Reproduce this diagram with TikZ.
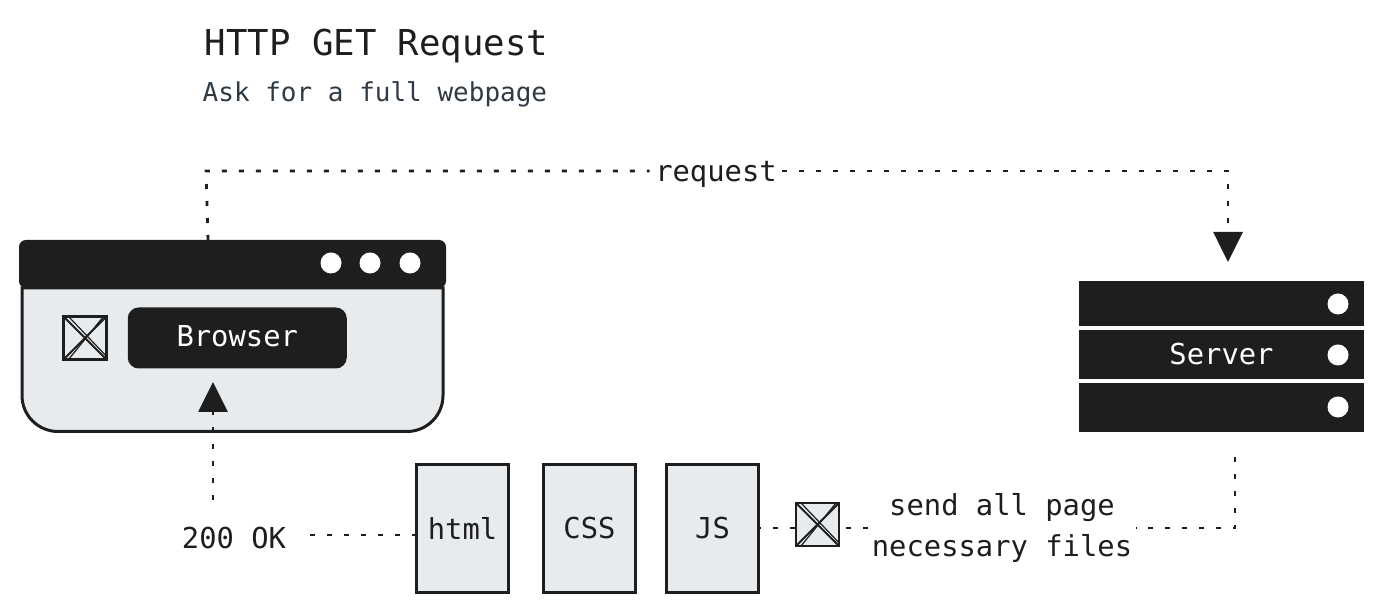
\documentclass[tikz,border=0pt]{standalone}
\usepackage{fontspec}
\setmainfont{DejaVu Sans Mono}
\usepackage{xcolor}
\definecolor{cInk}{HTML}{1E1E1E}
\definecolor{cNote}{HTML}{2F3A45}
\definecolor{cPaper}{HTML}{E8EBEE}
\usetikzlibrary{positioning,arrows.meta}
\tikzset{
  node-bar/.style={fill=cInk,draw=cInk,line width=0.2mm,inner sep=0pt,align=center,text=white},
  node-file/.style={draw=cInk,line width=0.3mm,fill=cPaper,inner sep=0pt,
    minimum width=9.2mm,minimum height=12.8mm,align=center},
  node-led/.style={circle,fill=white,inner sep=0pt,minimum size=2.1mm},
  node-check/.style={draw=cInk,line width=0.25mm,fill=cPaper,inner sep=0pt,minimum size=4.3mm,
    path picture={
      \draw[cInk,line width=0.18mm] (path picture bounding box.north west) -- (path picture bounding box.south east);
      \draw[cInk,line width=0.18mm] (path picture bounding box.south west) -- (path picture bounding box.north east);
      \draw[cInk,line width=0.12mm] ([xshift=0.5mm]path picture bounding box.north west) -- ([xshift=0.3mm]path picture bounding box.south east);
      \draw[cInk,line width=0.12mm] ([xshift=0.5mm]path picture bounding box.south west) -- ([xshift=-0.3mm]path picture bounding box.north east);
    }},
  line-dots/.style={line width=0.28mm,draw=cInk,dash pattern=on 0.5mm off 1.2mm},
  arrow-dots/.style={line-dots,-{Triangle[length=3mm,width=2.9mm]}},
}

\begin{document}
\begin{tikzpicture}[every node/.style={font=\fontsize{8.2}{11.4}\selectfont,text=cInk}]
  \useasboundingbox (0,0) rectangle (14,-6.13);
  % heading
  \node[anchor=west,inner sep=0pt,font=\fontsize{10.15}{12}\selectfont] (title) at (2.04,-0.46) {HTTP GET Request};
  \node[anchor=west,inner sep=0pt,text=cNote,font=\fontsize{7.4}{9}\selectfont] (subtitle) at (2.02,-0.94) {Ask for a full webpage};
  % browser window
  \node[node-bar,rounded corners=0.6mm,minimum width=42.5mm,minimum height=4.6mm,anchor=north west] (bar-window) at (0.19,-2.40) {};
  \draw[draw=cInk,line width=0.3mm,fill=cPaper] ([xshift=0.3mm]bar-window.south west) [rounded corners=3.6mm] -- (0.22,-4.315) -- (4.43,-4.315) [sharp corners] -- ([xshift=-0.3mm]bar-window.south east) -- cycle;
  \node[node-led] (led-a) at (3.31,-2.63) {};
  \node[node-led] (led-b) at (3.70,-2.63) {};
  \node[node-led] (led-c) at (4.10,-2.63) {};
  \node[node-check] (check-browser) at (0.85,-3.38) {};
  \node[node-bar,rounded corners=1mm,minimum width=21.7mm,minimum height=5.9mm,right=2mm of check-browser,text=white,text depth=0.4mm] (btn-browser) {Browser};
  % server rack
  \node[node-bar,minimum width=28.3mm,minimum height=4.3mm,anchor=north west] (bar-top) at (10.79,-2.81) {};
  \node[node-bar,minimum width=28.3mm,minimum height=4.7mm,below=0.4mm of bar-top,text=white] (bar-mid) {Server};
  \node[node-bar,minimum width=28.3mm,minimum height=4.7mm,below=0.4mm of bar-mid] (bar-low) {};
  \node[node-led] (led-top) at (13.38,-3.04) {};
  \node[node-led] (led-mid) at (13.38,-3.55) {};
  \node[node-led] (led-low) at (13.38,-4.07) {};
  % files on the way back
  \node[node-file,anchor=north west] (file-html) at (4.15,-4.63) {html};
  \node[node-file,right=3.2mm of file-html] (file-css) {CSS};
  \node[node-file,right=2.8mm of file-css] (file-js) {JS};
  \node[node-check] (check-files) at (8.175,-5.245) {};
  \node[align=center,inner sep=0.3mm] (lbl-send) at (10.02,-5.28) {send all page\\necessary files};
  \node[inner sep=0.3mm] (lbl-ok) at (2.34,-5.38) {200 OK};
  \node[fill=white,inner sep=0.5mm,text depth=0pt] (lbl-request) at (7.16,-1.71) {request};
  % free ends of the connectors
  \coordinate (req-start) at (2.08,-2.40);
  \coordinate (req-turn) at (2.06,-1.71);
  \coordinate (req-end) at (12.28,-2.62);
  \coordinate (srv-start) at (12.35,-4.57);
  \coordinate (ok-start) at (2.13,-5.00);
  \coordinate (ok-end) at (2.13,-3.82);
  \coordinate (ok-gap) at (3.10,-5.35);
  % connectors
  \draw[line-dots] (req-start) -- (req-turn) -- (lbl-request.west);
  \draw[arrow-dots] (lbl-request.east) -| (req-end);
  \draw[arrow-dots] (ok-start) -- (ok-end);
  \draw[line-dots] (ok-gap) -- (ok-gap -| file-html.west);
  \draw[line-dots] (srv-start) |- (lbl-send.east);
  \draw[line-dots] (lbl-send.west) -- (lbl-send.west -| check-files.east);
  \draw[line-dots] (lbl-send.west -| check-files.west) -- (lbl-send.west -| file-js.east);
\end{tikzpicture}
\end{document}
